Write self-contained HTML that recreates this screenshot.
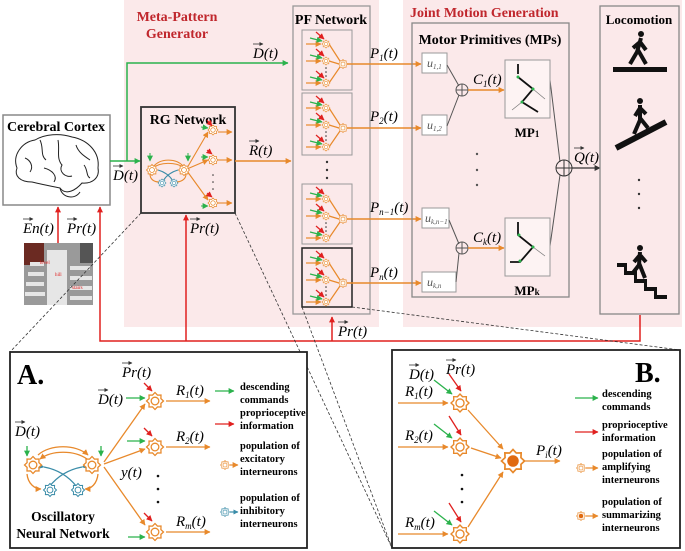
<!DOCTYPE html>
<html><head><meta charset="utf-8"><style>
html,body{margin:0;padding:0;background:#fff;}
svg{display:block;font-family:"Liberation Serif","DejaVu Serif",serif;}
svg text{font-family:"Liberation Serif","DejaVu Serif",serif;}
.b{font-weight:bold;}
.m{font-style:italic;font-size:15px;}
</style></head><body>
<svg width="685" height="551" viewBox="0 0 685 551" xmlns="http://www.w3.org/2000/svg" font-family="Liberation Serif, serif">
<defs>
<marker id="ao" viewBox="0 0 10 10" refX="9" refY="5" markerWidth="6" markerHeight="6" markerUnits="userSpaceOnUse" orient="auto"><path d="M0,0L10,5L0,10z" fill="#e8892b"/></marker>
<marker id="ag" viewBox="0 0 10 10" refX="9" refY="5" markerWidth="6" markerHeight="6" markerUnits="userSpaceOnUse" orient="auto"><path d="M0,0L10,5L0,10z" fill="#2bb24c"/></marker>
<marker id="ar" viewBox="0 0 10 10" refX="9" refY="5" markerWidth="6" markerHeight="6" markerUnits="userSpaceOnUse" orient="auto"><path d="M0,0L10,5L0,10z" fill="#e0201f"/></marker>
<marker id="ab" viewBox="0 0 10 10" refX="9" refY="5" markerWidth="6" markerHeight="6" markerUnits="userSpaceOnUse" orient="auto"><path d="M0,0L10,5L0,10z" fill="#333"/></marker>
<marker id="ak" viewBox="0 0 10 10" refX="9" refY="5" markerWidth="4" markerHeight="4" markerUnits="userSpaceOnUse" orient="auto"><path d="M0,0L10,5L0,10z" fill="#333"/></marker>
<marker id="au" viewBox="0 0 10 10" refX="9" refY="5" markerWidth="5" markerHeight="5" markerUnits="userSpaceOnUse" orient="auto"><path d="M0,0L10,5L0,10z" fill="#3a8ca8"/></marker>
<g id="star"><polygon points="10,0 6.93,2.87 7.07,7.07 2.87,6.93 0,10 -2.87,6.93 -7.07,7.07 -6.93,2.87 -10,0 -6.93,-2.87 -7.07,-7.07 -2.87,-6.93 0,-10 2.87,-6.93 7.07,-7.07 6.93,-2.87" fill="#fff" stroke="#e8892b" stroke-width="1.5"/><circle r="4.5" fill="none" stroke="#e8892b" stroke-width="1.5"/></g>
<g id="starF"><polygon points="10,0 6.93,2.87 7.07,7.07 2.87,6.93 0,10 -2.87,6.93 -7.07,7.07 -6.93,2.87 -10,0 -6.93,-2.87 -7.07,-7.07 -2.87,-6.93 0,-10 2.87,-6.93 7.07,-7.07 6.93,-2.87" fill="#fff" stroke="#e8892b" stroke-width="1.5"/><circle r="5" fill="#e06a10"/></g>
<g id="starB"><polygon points="10,0 6.93,2.87 7.07,7.07 2.87,6.93 0,10 -2.87,6.93 -7.07,7.07 -6.93,2.87 -10,0 -6.93,-2.87 -7.07,-7.07 -2.87,-6.93 0,-10 2.87,-6.93 7.07,-7.07 6.93,-2.87" fill="#fff" stroke="#3a8ca8" stroke-width="1.5"/><circle r="4.5" fill="none" stroke="#3a8ca8" stroke-width="1.5"/></g>
<g id="pfsub">
 <g stroke="#e8892b" stroke-width="1.2" fill="none">
  <line x1="4" y1="14" x2="19" y2="14" marker-end="url(#ao)"/><line x1="4" y1="31" x2="19" y2="31" marker-end="url(#ao)"/><line x1="4" y1="53" x2="19" y2="53" marker-end="url(#ao)"/>
  <line x1="27" y1="14" x2="38" y2="31"/><line x1="27" y1="31" x2="37" y2="34"/><line x1="27" y1="53" x2="38" y2="37"/>
 </g>
 <g stroke="#2bb24c" stroke-width="1.2"><line x1="8" y1="8" x2="20" y2="11" marker-end="url(#ag)"/><line x1="8" y1="25" x2="20" y2="28" marker-end="url(#ag)"/><line x1="8" y1="47" x2="20" y2="50" marker-end="url(#ag)"/></g>
 <g stroke="#e0201f" stroke-width="1.2"><line x1="14" y1="2" x2="22" y2="9" marker-end="url(#ar)"/><line x1="14" y1="19" x2="22" y2="26" marker-end="url(#ar)"/><line x1="14" y1="41" x2="22" y2="48" marker-end="url(#ar)"/></g>
 <use href="#star" transform="translate(24,14) scale(0.4)"/><use href="#star" transform="translate(24,31) scale(0.4)"/><use href="#star" transform="translate(24,53) scale(0.4)"/>
 <use href="#star" transform="translate(41,34) scale(0.45)"/>
 <g fill="#333"><circle cx="24" cy="38" r="0.8"/><circle cx="24" cy="42" r="0.8"/><circle cx="24" cy="46" r="0.8"/></g>
</g>
</defs>

<rect x="124" y="0" width="255" height="327" fill="#fbe9ea"/>
<rect x="403" y="0" width="279" height="327" fill="#fbe9ea"/>

<text x="177" y="21" fill="#c0272d" font-size="14" class="b" text-anchor="middle">Meta-Pattern</text>
<text x="177" y="38" fill="#c0272d" font-size="14" class="b" text-anchor="middle">Generator</text>
<text x="410" y="17" fill="#c0272d" font-size="14" class="b">Joint Motion Generation</text>

<rect x="3" y="115" width="107" height="90" fill="#fff" stroke="#888" stroke-width="1.5"/>
<text x="56" y="131" text-anchor="middle" font-size="14" class="b">Cerebral Cortex</text>
<g fill="none" stroke="#222" stroke-width="1">
<path d="M17,168 C12,155 22,142 35,140 C45,134 60,133 72,137 C88,140 100,152 98,168 C100,178 92,184 82,183 C76,190 66,196 60,188 C50,186 40,184 32,182 C20,182 14,176 17,168 Z"/>
<path d="M60,188 C62,198 75,200 80,192"/>
<path d="M40,140 C44,148 40,155 46,160 M58,140 C60,150 56,158 62,165 C58,172 66,178 72,176 M76,145 C78,152 84,156 90,160 M25,158 C30,160 34,166 30,172 M44,168 C52,170 58,176 54,182 M84,165 C88,170 86,176 90,178"/>
</g>

<rect x="24" y="243" width="69" height="62" fill="#9a9a9a"/>
<rect x="24" y="243" width="20" height="22" fill="#6b2a22"/>
<rect x="80" y="243" width="13" height="20" fill="#555"/>
<g fill="#e6e6e6"><rect x="30" y="262" width="14" height="4"/><rect x="28" y="272" width="16" height="4"/><rect x="26" y="282" width="18" height="4"/><rect x="25" y="292" width="20" height="4"/><rect x="70" y="266" width="20" height="4"/><rect x="70" y="276" width="22" height="4"/><rect x="70" y="286" width="22" height="4"/><rect x="70" y="296" width="22" height="4"/><rect x="47" y="250" width="20" height="55"/></g>
<text x="40" y="264" font-size="5" fill="#e02020">level</text><text x="55" y="276" font-size="5" fill="#e02020">hill</text><text x="72" y="289" font-size="5" fill="#e02020">stairs</text>

<g stroke="#e0201f" stroke-width="1.5" fill="none">
<line x1="58" y1="243" x2="58" y2="207" marker-end="url(#ar)"/>
<polyline points="640,315 640,341 100,341 100,207" marker-end="url(#ar)"/>
<line x1="186" y1="341" x2="186" y2="215" marker-end="url(#ar)"/>
<line x1="332" y1="341" x2="332" y2="317" marker-end="url(#ar)"/>
</g>
<text x="23" y="233" class="m">En(t)</text><line x1="23" y1="219" x2="33" y2="219" stroke="#333" stroke-width="0.8" marker-end="url(#ak)"/>
<text x="67" y="233" class="m">Pr(t)</text><line x1="67" y1="219" x2="77" y2="219" stroke="#333" stroke-width="0.8" marker-end="url(#ak)"/>
<text x="190" y="233" class="m">Pr(t)</text><line x1="190" y1="219" x2="200" y2="219" stroke="#333" stroke-width="0.8" marker-end="url(#ak)"/>
<text x="338" y="336" class="m">Pr(t)</text><line x1="338" y1="322" x2="348" y2="322" stroke="#333" stroke-width="0.8" marker-end="url(#ak)"/>

<g stroke="#2bb24c" stroke-width="1.5" fill="none">
<line x1="110" y1="161" x2="140" y2="161" marker-end="url(#ag)"/>
<polyline points="127,161 127,63 288,63" marker-end="url(#ag)"/>
</g>
<text x="113" y="180" class="m">D(t)</text><line x1="113" y1="166" x2="123" y2="166" stroke="#333" stroke-width="0.8" marker-end="url(#ak)"/>
<text x="253" y="58" class="m">D(t)</text><line x1="253" y1="44" x2="263" y2="44" stroke="#333" stroke-width="0.8" marker-end="url(#ak)"/>

<rect x="141" y="107" width="94" height="106" fill="#fbe9ea" stroke="#333" stroke-width="1.8"/>
<text x="188" y="124" text-anchor="middle" font-size="14" class="b">RG Network</text>
<g stroke="#e8892b" stroke-width="1.1" fill="none">
<path d="M153,167 C160,158 176,158 183,166"/><path d="M183,167 C175,162 160,162 153,168"/>
<path d="M150,174 C150,180 155,182 159,182"/><path d="M186,174 C186,180 180,182 176,182"/>
<line x1="187" y1="168" x2="208" y2="132" marker-end="url(#ao)"/><line x1="187" y1="169" x2="208" y2="160" marker-end="url(#ao)"/><line x1="187" y1="171" x2="208" y2="200" marker-end="url(#ao)"/>
<line x1="218" y1="132" x2="232" y2="132" marker-end="url(#ao)"/><line x1="218" y1="160" x2="232" y2="160" marker-end="url(#ao)"/><line x1="218" y1="203" x2="232" y2="203" marker-end="url(#ao)"/>
</g>
<g stroke="#3a8ca8" stroke-width="1" fill="none"><path d="M158,170 C165,172 170,176 173,181"/><path d="M178,170 C171,172 166,176 163,181"/></g>
<g stroke="#2bb24c" stroke-width="1"><line x1="150" y1="153" x2="150" y2="161" marker-end="url(#ag)"/><line x1="188" y1="153" x2="188" y2="161" marker-end="url(#ag)"/>
<line x1="201" y1="127" x2="208" y2="128" marker-end="url(#ag)"/><line x1="201" y1="157" x2="208" y2="157" marker-end="url(#ag)"/><line x1="201" y1="206" x2="208" y2="206" marker-end="url(#ag)"/></g>
<g stroke="#e0201f" stroke-width="1"><line x1="207" y1="120" x2="212" y2="126" marker-end="url(#ar)"/><line x1="207" y1="150" x2="212" y2="154" marker-end="url(#ar)"/><line x1="207" y1="193" x2="212" y2="197" marker-end="url(#ar)"/></g>
<use href="#star" transform="translate(152,170) scale(0.55)"/><use href="#star" transform="translate(184,170) scale(0.55)"/>
<use href="#starB" transform="translate(162,183) scale(0.4)"/><use href="#starB" transform="translate(174,183) scale(0.4)"/>
<use href="#star" transform="translate(213,130) scale(0.5)"/><use href="#star" transform="translate(213,160) scale(0.5)"/><use href="#star" transform="translate(213,203) scale(0.5)"/>
<g fill="#333"><circle cx="213" cy="175" r="0.8"/><circle cx="213" cy="182" r="0.8"/><circle cx="213" cy="189" r="0.8"/></g>
<line x1="235" y1="161" x2="291" y2="161" stroke="#e8892b" stroke-width="1.5" marker-end="url(#ao)"/>
<text x="249" y="155" class="m">R(t)</text><line x1="249" y1="141" x2="259" y2="141" stroke="#333" stroke-width="0.8" marker-end="url(#ak)"/>

<rect x="293" y="6" width="77" height="308" fill="none" stroke="#999" stroke-width="1.3"/>
<text x="331" y="24" text-anchor="middle" font-size="14" class="b">PF Network</text>
<rect x="302" y="30" width="50" height="60" fill="none" stroke="#999"/>
<rect x="302" y="93" width="50" height="62" fill="none" stroke="#999"/>
<rect x="302" y="184" width="50" height="60" fill="none" stroke="#999"/>
<rect x="302" y="248" width="50" height="59" fill="none" stroke="#222" stroke-width="1.5"/>
<use href="#pfsub" transform="translate(302,30)"/>
<use href="#pfsub" transform="translate(302,94)"/>
<use href="#pfsub" transform="translate(302,185)"/>
<use href="#pfsub" transform="translate(302,249)"/>
<g fill="#333"><circle cx="327" cy="162" r="1.2"/><circle cx="327" cy="170" r="1.2"/><circle cx="327" cy="178" r="1.2"/></g>
<g stroke="#e8892b" stroke-width="1.5"><line x1="347" y1="64" x2="421" y2="64" marker-end="url(#ao)"/><line x1="347" y1="128" x2="421" y2="128" marker-end="url(#ao)"/><line x1="347" y1="219" x2="421" y2="219" marker-end="url(#ao)"/><line x1="347" y1="283" x2="421" y2="283" marker-end="url(#ao)"/></g>
<text x="370" y="58" class="m">P<tspan font-size="9" dy="3">1</tspan><tspan dy="-3">(t)</tspan></text>
<text x="370" y="121" class="m">P<tspan font-size="9" dy="3">2</tspan><tspan dy="-3">(t)</tspan></text>
<text x="370" y="212" class="m">P<tspan font-size="9" dy="3">n−1</tspan><tspan dy="-3">(t)</tspan></text>
<text x="370" y="277" class="m">P<tspan font-size="9" dy="3">n</tspan><tspan dy="-3">(t)</tspan></text>

<rect x="412" y="23" width="157" height="274" fill="none" stroke="#888" stroke-width="1.3"/>
<text x="490" y="44" text-anchor="middle" font-size="14" class="b">Motor Primitives (MPs)</text>
<g fill="#fff" stroke="#999"><rect x="422" y="53" width="25" height="20"/><rect x="422" y="115" width="25" height="20"/><rect x="422" y="208" width="27" height="20"/><rect x="422" y="272" width="34" height="20"/></g>
<g font-size="12" font-style="italic" fill="#555"><text x="427" y="67">u<tspan font-size="7" dy="2">1,1</tspan></text><text x="427" y="129">u<tspan font-size="7" dy="2">1,2</tspan></text><text x="425" y="222">u<tspan font-size="7" dy="2">k,n−1</tspan></text><text x="427" y="286">u<tspan font-size="7" dy="2">k,n</tspan></text></g>
<g stroke="#555" fill="none"><line x1="447" y1="65" x2="459" y2="86"/><line x1="447" y1="126" x2="459" y2="95"/><line x1="449" y1="220" x2="459" y2="244"/><line x1="456" y1="282" x2="459" y2="253"/>
<circle cx="462" cy="90" r="6"/><line x1="456" y1="90" x2="468" y2="90"/><line x1="462" y1="84" x2="462" y2="96"/>
<circle cx="462" cy="248" r="6"/><line x1="456" y1="248" x2="468" y2="248"/><line x1="462" y1="242" x2="462" y2="254"/>
<line x1="550" y1="80" x2="560" y2="162"/><line x1="550" y1="246" x2="560" y2="175"/>
<circle cx="564" cy="168" r="8" stroke="#333"/><line x1="556" y1="168" x2="572" y2="168" stroke="#333"/><line x1="564" y1="160" x2="564" y2="176" stroke="#333"/></g>
<g fill="#555"><circle cx="477" cy="154" r="1.2"/><circle cx="477" cy="170" r="1.2"/><circle cx="477" cy="185" r="1.2"/></g>
<g stroke="#e8892b" stroke-width="1.5"><line x1="468" y1="90" x2="504" y2="90" marker-end="url(#ao)"/><line x1="468" y1="248" x2="504" y2="248" marker-end="url(#ao)"/></g>
<text x="473" y="84" class="m">C<tspan font-size="9" dy="3">1</tspan><tspan dy="-3">(t)</tspan></text>
<text x="473" y="242" class="m">C<tspan font-size="9" dy="3">k</tspan><tspan dy="-3">(t)</tspan></text>
<rect x="505" y="60" width="45" height="58" fill="#fdf3f3" stroke="#999"/>
<rect x="505" y="218" width="45" height="58" fill="#fdf3f3" stroke="#999"/>
<g stroke="#111" stroke-width="1.8" fill="none"><line x1="518" y1="64" x2="518" y2="74"/><polyline points="518,77 533,89 522,102 538,112"/><polyline points="518,222 518,235 533,247 520,262 510,262"/></g>
<g stroke="#777" stroke-width="0.7"><line x1="533" y1="89" x2="545" y2="99"/><line x1="522" y1="102" x2="512" y2="110"/><line x1="533" y1="247" x2="545" y2="256"/></g>
<g fill="#2bb24c"><circle cx="518" cy="77" r="1.5"/><circle cx="533" cy="89" r="1.5"/><circle cx="522" cy="102" r="1.5"/><circle cx="519" cy="235" r="1.5"/><circle cx="533" cy="247" r="1.5"/><circle cx="520" cy="261" r="1.5"/></g>
<text x="527" y="137" text-anchor="middle" font-size="13" class="b">MP<tspan font-size="9">1</tspan></text>
<text x="527" y="295" text-anchor="middle" font-size="13" class="b">MP<tspan font-size="9">k</tspan></text>
<line x1="572" y1="168" x2="600" y2="168" stroke="#333" stroke-width="1.2" marker-end="url(#ab)"/>
<text x="574" y="162" class="m">Q(t)</text><line x1="574" y1="148" x2="584" y2="148" stroke="#333" stroke-width="0.8" marker-end="url(#ak)"/>

<rect x="600" y="6" width="79" height="308" fill="none" stroke="#888" stroke-width="1.3"/>
<text x="639" y="24" text-anchor="middle" font-size="13" class="b">Locomotion</text>
<g fill="#111" stroke="#111">
<rect x="613" y="67" width="54" height="5" stroke="none"/>
<circle cx="641" cy="34" r="3" stroke="none"/><path d="M641,38 L637,52 L630,64 M638,50 L646,64 M640,42 L633,48 M640,42 L646,50" stroke-width="4" fill="none"/>
<path d="M616,148 L666,122" stroke-width="6" fill="none"/>
<circle cx="640" cy="101" r="3" stroke="none"/><path d="M640,105 L640,120 L634,134 M640,118 L648,128 M640,108 L635,116 M640,108 L646,114" stroke-width="4" fill="none"/>
<path d="M617,263 L627,263 L627,271 L637,271 L637,279 L647,279 L647,287 L657,287 L657,295 L667,295 L667,299 L654,299 L654,291 L644,291 L644,283 L634,283 L634,275 L624,275 L624,267 L617,267Z" stroke="none"/>
<circle cx="640" cy="248" r="3" stroke="none"/><path d="M640,252 L639,265 L632,274 M639,263 L645,278 M640,255 L634,262 M640,255 L646,262" stroke-width="4" fill="none"/>
</g>
<g fill="#333"><circle cx="639" cy="180" r="1.2"/><circle cx="639" cy="194" r="1.2"/><circle cx="639" cy="208" r="1.2"/></g>

<g stroke="#333" stroke-width="0.8" stroke-dasharray="3,2" fill="none">
<line x1="141" y1="213" x2="10" y2="352"/>
<line x1="235" y1="213" x2="392" y2="548"/>
<line x1="302" y1="307" x2="392" y2="548"/>
<line x1="352" y1="307" x2="680" y2="350"/>
</g>

<rect x="10" y="352" width="297" height="196" fill="#fff" stroke="#222" stroke-width="1.8"/>
<text x="17" y="384" font-size="28" class="b">A.</text>
<g stroke="#e8892b" stroke-width="1.3" fill="none">
<path d="M38,455 C50,444 76,444 88,455" marker-end="url(#ao)"/>
<path d="M87,459 C74,450 52,450 40,459" marker-end="url(#ao)"/>
<path d="M27,474 C28,484 35,489 41,489" marker-end="url(#ao)"/>
<path d="M98,474 C97,484 91,489 85,489" marker-end="url(#ao)"/>
<line x1="104" y1="462" x2="145" y2="404" marker-end="url(#ao)"/>
<line x1="104" y1="464" x2="145" y2="449" marker-end="url(#ao)"/>
<line x1="104" y1="467" x2="145" y2="525" marker-end="url(#ao)"/>
<line x1="166" y1="401" x2="210" y2="401" marker-end="url(#ao)"/>
<line x1="166" y1="447" x2="210" y2="447" marker-end="url(#ao)"/>
<line x1="166" y1="532" x2="210" y2="532" marker-end="url(#ao)"/>
</g>
<g stroke="#3a8ca8" stroke-width="1.2" fill="none"><path d="M44,467 C60,470 70,478 77,487" marker-start="url(#au)"/><path d="M82,467 C66,470 56,478 49,487" marker-start="url(#au)"/></g>
<g stroke="#2bb24c" stroke-width="1.3"><line x1="27" y1="446" x2="27" y2="456" marker-end="url(#ag)"/><line x1="101" y1="446" x2="101" y2="456" marker-end="url(#ag)"/>
<line x1="126" y1="398" x2="145" y2="398" marker-end="url(#ag)"/><line x1="127" y1="441" x2="145" y2="441" marker-end="url(#ag)"/><line x1="128" y1="537" x2="145" y2="537" marker-end="url(#ag)"/></g>
<g stroke="#e0201f" stroke-width="1.3"><line x1="144" y1="383" x2="152" y2="391" marker-end="url(#ar)"/><line x1="144" y1="428" x2="152" y2="436" marker-end="url(#ar)"/><line x1="144" y1="513" x2="152" y2="521" marker-end="url(#ar)"/></g>
<use href="#star" transform="translate(33,465) scale(0.85)"/><use href="#star" transform="translate(92,465) scale(0.85)"/>
<use href="#starB" transform="translate(50,490) scale(0.65)"/><use href="#starB" transform="translate(78,490) scale(0.65)"/>
<use href="#star" transform="translate(155,401) scale(0.85)"/><use href="#star" transform="translate(155,447) scale(0.85)"/><use href="#star" transform="translate(155,532) scale(0.85)"/>
<g fill="#111"><circle cx="158" cy="476" r="1.3"/><circle cx="158" cy="489" r="1.3"/><circle cx="158" cy="502" r="1.3"/></g>
<text x="122" y="377" class="m">Pr(t)</text><line x1="122" y1="363" x2="132" y2="363" stroke="#333" stroke-width="0.8" marker-end="url(#ak)"/>
<text x="98" y="404" class="m">D(t)</text><line x1="98" y1="390" x2="108" y2="390" stroke="#333" stroke-width="0.8" marker-end="url(#ak)"/>
<text x="15" y="436" class="m">D(t)</text><line x1="15" y1="422" x2="25" y2="422" stroke="#333" stroke-width="0.8" marker-end="url(#ak)"/>
<text x="121" y="477" class="m">y(t)</text>
<text x="176" y="395" class="m">R<tspan font-size="9" dy="3">1</tspan><tspan dy="-3">(t)</tspan></text>
<text x="176" y="441" class="m">R<tspan font-size="9" dy="3">2</tspan><tspan dy="-3">(t)</tspan></text>
<text x="176" y="526" class="m">R<tspan font-size="9" dy="3">m</tspan><tspan dy="-3">(t)</tspan></text>
<text x="63" y="521" text-anchor="middle" font-size="13.5" class="b">Oscillatory</text>
<text x="63" y="538" text-anchor="middle" font-size="13.5" class="b">Neural Network</text>
<line x1="215" y1="391" x2="234" y2="391" stroke="#2bb24c" stroke-width="1.3" marker-end="url(#ag)"/>
<line x1="215" y1="424" x2="234" y2="424" stroke="#e0201f" stroke-width="1.3" marker-end="url(#ar)"/>
<use href="#star" transform="translate(225,465) scale(0.45)"/><line x1="230" y1="465" x2="238" y2="465" stroke="#e8892b" stroke-width="1.2" marker-end="url(#ao)"/>
<use href="#starB" transform="translate(225,512) scale(0.45)"/><line x1="230" y1="512" x2="238" y2="512" stroke="#3a8ca8" stroke-width="1.2" marker-end="url(#au)"/>
<g font-size="10.5" class="b"><text x="240" y="390">descending</text><text x="240" y="403">commands</text><text x="240" y="416">proprioceptive</text><text x="240" y="429">information</text><text x="240" y="449">population of</text><text x="240" y="462">excitatory</text><text x="240" y="475">interneurons</text><text x="240" y="501">population of</text><text x="240" y="514">inhibitory</text><text x="240" y="527">interneurons</text></g>

<rect x="392" y="350" width="288" height="198" fill="#fff" stroke="#222" stroke-width="1.8"/>
<text x="635" y="382" font-size="28" class="b">B.</text>
<g stroke="#e8892b" stroke-width="1.3" fill="none">
<line x1="398" y1="403" x2="448" y2="403" marker-end="url(#ao)"/><line x1="398" y1="447" x2="448" y2="447" marker-end="url(#ao)"/><line x1="398" y1="534" x2="448" y2="534" marker-end="url(#ao)"/>
<line x1="468" y1="410" x2="503" y2="449" marker-end="url(#ao)"/><line x1="471" y1="448" x2="501" y2="458" marker-end="url(#ao)"/><line x1="468" y1="527" x2="503" y2="472" marker-end="url(#ao)"/>
<line x1="524" y1="461" x2="560" y2="461" marker-end="url(#ao)"/>
</g>
<g stroke="#2bb24c" stroke-width="1.3"><line x1="434" y1="380" x2="452" y2="394" marker-end="url(#ag)"/><line x1="434" y1="424" x2="452" y2="438" marker-end="url(#ag)"/><line x1="434" y1="511" x2="452" y2="525" marker-end="url(#ag)"/></g>
<g stroke="#e0201f" stroke-width="1.3"><line x1="449" y1="374" x2="461" y2="391" marker-end="url(#ar)"/><line x1="449" y1="416" x2="461" y2="435" marker-end="url(#ar)"/><line x1="449" y1="503" x2="461" y2="522" marker-end="url(#ar)"/></g>
<use href="#star" transform="translate(460,403) scale(0.9)"/><use href="#star" transform="translate(460,447) scale(0.9)"/><use href="#star" transform="translate(460,534) scale(0.9)"/>
<use href="#starF" transform="translate(513,461) scale(1.15)"/>
<g fill="#111"><circle cx="462" cy="475" r="1.3"/><circle cx="462" cy="489" r="1.3"/><circle cx="462" cy="502" r="1.3"/></g>
<text x="409" y="379" class="m">D(t)</text><line x1="409" y1="365" x2="419" y2="365" stroke="#333" stroke-width="0.8" marker-end="url(#ak)"/>
<text x="446" y="374" class="m">Pr(t)</text><line x1="446" y1="360" x2="456" y2="360" stroke="#333" stroke-width="0.8" marker-end="url(#ak)"/>
<text x="405" y="396" class="m">R<tspan font-size="9" dy="3">1</tspan><tspan dy="-3">(t)</tspan></text>
<text x="405" y="440" class="m">R<tspan font-size="9" dy="3">2</tspan><tspan dy="-3">(t)</tspan></text>
<text x="405" y="527" class="m">R<tspan font-size="9" dy="3">m</tspan><tspan dy="-3">(t)</tspan></text>
<text x="536" y="455" class="m">P<tspan font-size="9" dy="3">i</tspan><tspan dy="-3">(t)</tspan></text>
<line x1="575" y1="398" x2="598" y2="398" stroke="#2bb24c" stroke-width="1.3" marker-end="url(#ag)"/>
<line x1="575" y1="432" x2="598" y2="432" stroke="#e0201f" stroke-width="1.3" marker-end="url(#ar)"/>
<use href="#star" transform="translate(581,468) scale(0.45)"/><line x1="586" y1="468" x2="598" y2="468" stroke="#e8892b" stroke-width="1.2" marker-end="url(#ao)"/>
<use href="#starF" transform="translate(581,516) scale(0.45)"/><line x1="586" y1="516" x2="598" y2="516" stroke="#e8892b" stroke-width="1.2" marker-end="url(#ao)"/>
<g font-size="10.5" class="b"><text x="602" y="397">descending</text><text x="602" y="410">commands</text><text x="602" y="428">proprioceptive</text><text x="602" y="441">information</text><text x="602" y="457">population of</text><text x="602" y="470">amplifying</text><text x="602" y="483">interneurons</text><text x="602" y="505">population of</text><text x="602" y="518">summarizing</text><text x="602" y="531">interneurons</text></g>
</svg>
</body></html>
